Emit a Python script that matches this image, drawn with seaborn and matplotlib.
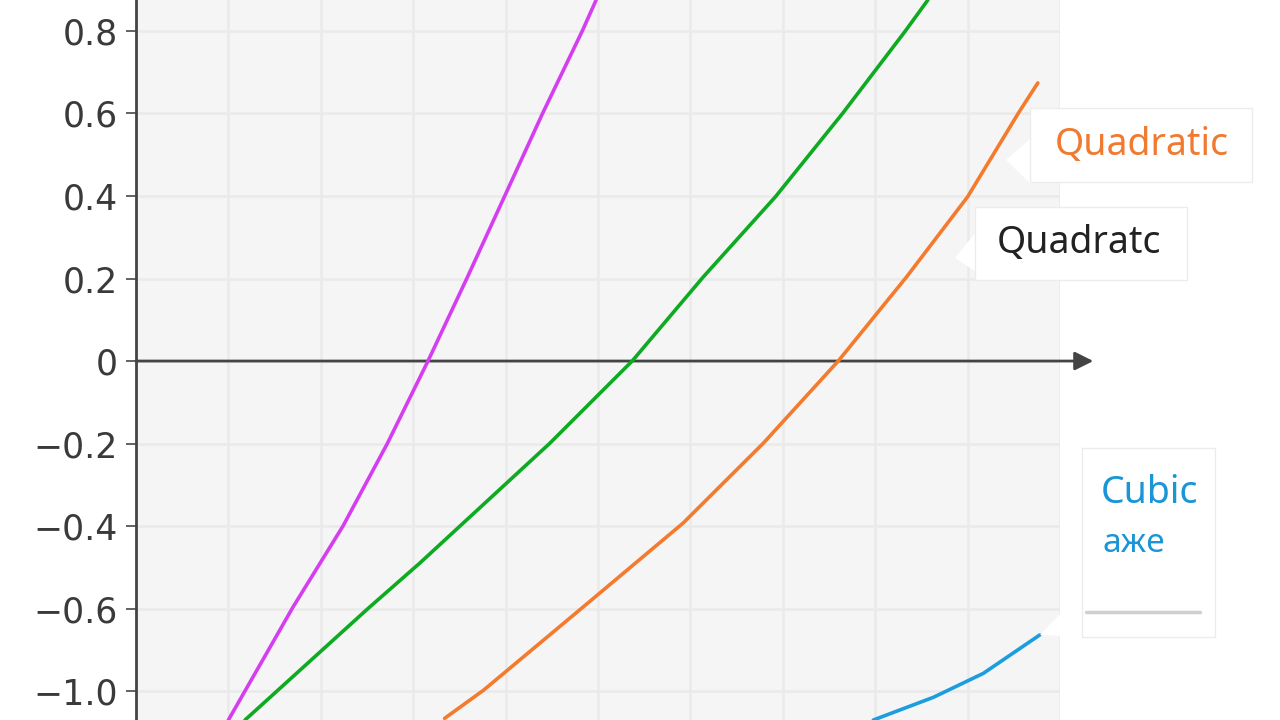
import numpy as np
import pandas as pd
import seaborn as sns
import matplotlib
matplotlib.use("Agg")
import matplotlib.pyplot as plt
from matplotlib.patches import Rectangle, Polygon

# curve samples
magenta_x = [1.00, 1.70, 2.24, 2.72, 3.16, 3.58, 3.97, 4.40, 4.83, 4.98]
magenta_y = [-0.87, -0.596, -0.40, -0.20, 0.00, 0.20, 0.39, 0.60, 0.80, 0.875]

green_x = [1.18, 2.51, 3.07, 3.54, 4.48, 5.37, 6.14, 6.92, 7.65, 8.32, 8.57]
green_y = [-0.87, -0.60, -0.49, -0.393, -0.199, 0.00, 0.204, 0.398, 0.601, 0.798, 0.875]

orange_x = [3.34, 3.76, 4.84, 5.92, 6.79, 7.60, 8.34, 9.00, 9.55, 9.76]
orange_y = [-0.866, -0.798, -0.596, -0.393, -0.199, 0.00, 0.204, 0.398, 0.601, 0.674]

blue_x = [7.98, 8.63, 9.17, 9.78]
blue_y = [-0.87, -0.815, -0.757, -0.664]

ytick_pos = [-0.8, -0.6, -0.4, -0.2, 0.0, 0.2, 0.4, 0.6, 0.8]
ytick_labels = ["\u22121.0", "\u22120.6", "\u22120.4", "\u22120.2", "0", "0.2", "0.4", "0.6", "0.8"]

series = [
    (magenta_x, magenta_y, "#d53ef0"),
    (green_x, green_y, "#0eaa22"),
    (orange_x, orange_y, "#f47b2e"),
    (blue_x, blue_y, "#1b9ddf"),
]

sns.set_theme(style="whitegrid")
plt.rcParams["font.family"] = ["DejaVu Sans"]

fig = plt.figure(figsize=(12.8, 7.2), dpi=100)
fig.patch.set_facecolor("white")
ax = fig.add_axes([136 / 1280, 0, 924 / 1280, 1])
ax.set_facecolor("#f5f5f5")

for xs, ys, col in series:
    df = pd.DataFrame({"x": xs, "y": ys})
    sns.lineplot(data=df, x="x", y="y", color=col, linewidth=2.6,
                 estimator=None, sort=False, ax=ax, zorder=3)

ax.set_xlim(0, 10)
ax.set_ylim(-0.87, 0.875)
ax.set_xticks(range(0, 11))
ax.set_xticklabels([])
ax.tick_params(axis="x", length=0)
ax.set_yticks(ytick_pos)
ax.set_yticklabels(ytick_labels, fontsize=25, color="#3a3a3a")
ax.tick_params(axis="y", length=7, width=1.3, color="#555555", pad=6, left=True)
ax.set_xlabel("")
ax.set_ylabel("")
ax.grid(True, color="#eaeaea", linewidth=1.8)

for side in ["top", "right", "bottom"]:
    ax.spines[side].set_visible(False)
ax.spines["left"].set_color("#444444")
ax.spines["left"].set_linewidth(2)

# x axis drawn as an arrow through y = 0
ax.annotate("", xy=(10.36, 0), xytext=(0, 0), annotation_clip=False,
            arrowprops=dict(arrowstyle="-|>", color="#444444", lw=2,
                            mutation_scale=28, shrinkA=0, shrinkB=0), zorder=2)


def fx(px):
    return px / 1280


def fy(py):
    return 1 - py / 720


def callout(x0, y0, x1, y1, pointer=None):
    if pointer is not None:
        fig.patches.append(Polygon([(fx(a), fy(b)) for a, b in pointer], closed=True,
                                   transform=fig.transFigure, facecolor="white",
                                   edgecolor="none", zorder=4))
    fig.patches.append(Rectangle((fx(x0), fy(y1)), fx(x1) - fx(x0), fy(y0) - fy(y1),
                                 transform=fig.transFigure, facecolor="white",
                                 edgecolor="#ececec", linewidth=1, zorder=5))


callout(1030, 108, 1252, 182, pointer=[(1031, 138), (1006, 160), (1031, 184)])
callout(975, 207, 1187, 280, pointer=[(976, 232), (955, 258), (976, 272)])
callout(1082, 448, 1215, 637, pointer=[(1083, 590), (1040, 635), (1083, 637)])

fig.text(fx(1055), fy(145), "Quadratic", fontsize=27, color="#f07a30",
         family=["Noto Sans", "DejaVu Sans"], va="center", ha="left", zorder=6)
fig.text(fx(997), fy(243), "Quadratc", fontsize=27, color="#222222",
         family=["Noto Sans", "DejaVu Sans"], va="center", ha="left", zorder=6)
fig.text(fx(1101), fy(493), "Cubic", fontsize=27, color="#1a95d5",
         family=["Noto Sans", "DejaVu Sans"], va="center", ha="left", zorder=6)
fig.text(fx(1102), fy(543), "a\u0436e", fontsize=24, color="#1a95d5",
         family=["Noto Sans", "DejaVu Sans"], va="center", ha="left", zorder=6)
fig.lines.append(plt.Line2D([fx(1086), fx(1200)], [fy(612), fy(612)],
                            transform=fig.transFigure, color="#cfcfcf",
                            linewidth=2.5, zorder=6))

fig.savefig("out.png", dpi=100)
